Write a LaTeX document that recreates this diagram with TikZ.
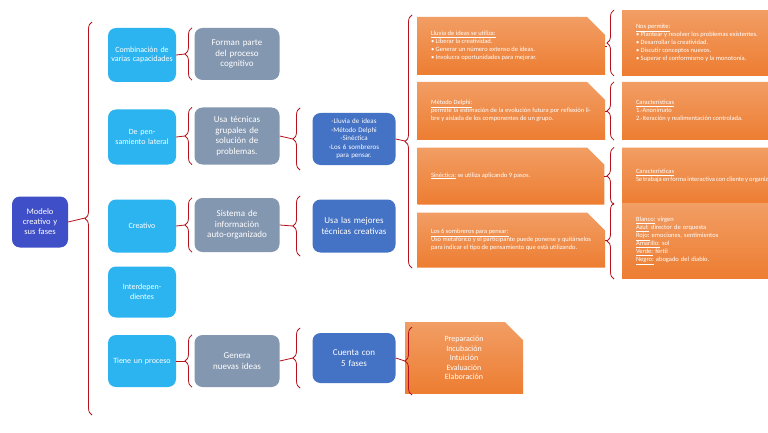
\documentclass[tikz,border=0pt]{standalone}
\usepackage{fontspec}
\setmainfont{Carlito}
\usetikzlibrary{shapes.misc}
\usetikzlibrary{decorations.pathreplacing}
\definecolor{rootblue}{HTML}{3F4FC8}
\definecolor{skyblue}{HTML}{2CB4F0}
\definecolor{slate}{HTML}{8497B0}
\definecolor{midblue}{HTML}{4472C4}
\definecolor{orng}{HTML}{ED7D31}
\definecolor{bracered}{HTML}{B5121B}
\tikzset{
  box/.style={rounded corners=8pt, text=white, align=center, inner sep=2pt},
  lvlone/.style={box, fill=skyblue, minimum width=68pt, text width=62pt, font=\fontsize{8}{9.5}\selectfont},
  lvltwo/.style={box, fill=slate, minimum width=85pt, text width=60pt, font=\fontsize{9}{10.5}\selectfont},
  lvlthree/.style={box, fill=midblue, minimum width=83pt, text width=70pt, font=\fontsize{9}{10.5}\selectfont},
  obox/.style={chamfered rectangle, chamfered rectangle corners=north east, chamfered rectangle xsep=9pt, chamfered rectangle ysep=9pt,
    top color=orng!75, bottom color=orng, draw=none, text=white, align=justify, inner sep=5pt,
    font=\fontsize{6.5}{8}\selectfont},
  brc/.style={draw=bracered, thick, decorate, decoration={brace, amplitude=7pt}},
  link/.style={draw=bracered, thick}
}
\begin{document}
\begin{tikzpicture}[x=1pt, y=-1pt]
    \clip (0,0) rectangle (768,433);
    \fill[white] (0,0) rectangle (768,433);

    % raiz
    \node[box, fill=rootblue, minimum width=56pt, minimum height=51pt, text width=50pt, font=\fontsize{8.5}{10}\selectfont] (root) at (40,222) {Modelo creativo y sus fases};
    \draw[brc] (92,415) -- (92,22);
    \draw[link] (root.east) -- (85,218);

    % primer nivel
    \node[lvlone, minimum height=54pt] (comb) at (142,55) {Combinación de varias capacidades};
    \node[lvlone, minimum height=55pt] (lat) at (142,137) {De pensamiento lateral};
    \node[lvlone, minimum height=53pt] (crea) at (142,226) {Creativo};
    \node[lvlone, minimum height=51pt] (inter) at (142,292) {Interdepen-\\dientes};
    \node[lvlone, minimum height=52pt] (proc) at (142,361) {Tiene un proceso};

    % segundo nivel
    \node[lvltwo, minimum height=52pt] (cogn) at (237,54) {Forman parte del proceso cognitivo};
    \node[lvltwo, minimum height=57pt] (grup) at (237,136) {Usa técnicas grupales de solución de problemas.};
    \node[lvltwo, minimum height=54pt] (sist) at (237,225) {Sistema de información auto-organizado};
    \node[lvltwo, minimum height=52pt] (gen) at (237,361) {Genera nuevas ideas};
    \foreach \a/\b in {comb/cogn, lat/grup, crea/sist, proc/gen} {
        \draw[brc] (192,0 |- \b.south) -- (192,0 |- \b.north);
        \draw[link] (\a.east) -- (185,0 |- \b.east);
    }

    % tercer nivel
    \node[lvlthree, minimum height=52pt, font=\fontsize{7}{8.5}\selectfont] (list) at (354,139) {-Lluvia de ideas\\-Método Delphi\\-Sinéctica\\-Los 6 sombreros para pensar.};
    \node[lvlthree, minimum height=53pt] (mejor) at (354,226) {Usa las mejores técnicas creativas};
    \node[lvlthree, minimum height=50pt] (fases) at (354,358) {Cuenta con 5 fases};

    % cajas naranjas
    \node[obox, minimum width=173pt, text width=160pt, minimum height=58pt] (lluvia) at (511,46)
      {\underline{Lluvia de ideas se utiliza:}\\ • Liberar la creatividad.\\ • Generar un número extenso de ideas.\\ • Involucra oportunidades para mejorar.};
    \node[obox, minimum width=173pt, text width=160pt, minimum height=58pt] (delphi) at (511,111)
      {\underline{Método Delphi:}\\ permite la estimación de la evolución futura por reflexión libre y aislada de los componentes de un grupo.};
    \node[obox, minimum width=173pt, text width=160pt, minimum height=57pt] (sinec) at (511,176)
      {\underline{Sinéctica:} se utiliza aplicando 9 pasos.};
    \node[obox, minimum width=173pt, text width=160pt, minimum height=55pt] (somb) at (511,240)
      {\underline{Los 6 sombreros para pensar:}\\ Uso metafórico y el participante puede ponerse y quitárselos para indicar el tipo de pensamiento que está utilizando.};
    \node[obox, minimum width=103pt, text width=90pt, minimum height=67pt, align=center, font=\fontsize{8}{9.5}\selectfont] (etapas) at (464,358)
      {Preparación\\ Incubación\\ Intuición\\ Evaluación\\ Elaboración};

    \node[obox, minimum width=160pt, text width=148pt, minimum height=63pt] (permite) at (710,43)
      {\underline{Nos permite:}\\ • Plantear y resolver los problemas existentes.\\ • Desarrollar la creatividad.\\ • Discutir conceptos nuevos.\\ • Superar el conformismo y la monotonía.};
    \node[obox, minimum width=160pt, text width=148pt, minimum height=58pt] (car1) at (710,111)
      {\underline{Características}\\ 1.-Anonimato\\ 2.-Iteración y realimentación controlada.};
    \node[obox, minimum width=160pt, text width=148pt, minimum height=57pt] (car2) at (710,176)
      {\underline{Características}\\ Se trabaja en forma interactiva con cliente y organización.};
    \node[obox, minimum width=160pt, text width=148pt, minimum height=57pt, align=left] (colores) at (710,241)
      {\underline{Blanco:} virgen\\ \underline{Azul:} director de orquesta\\ \underline{Rojo:} emociones, sentimientos\\ \underline{Amarillo:} sol\\ \underline{Verde:} fértil\\ \underline{Negro:} abogado del diablo.};

    % llaves
    \draw[brc] (300,170) -- (300,108);
    \draw[link] (grup.east) -- (293,139);
    \draw[brc] (300,256) -- (300,196);
    \draw[link] (sist.east) -- (293,226);
    \draw[brc] (300,388) -- (300,328);
    \draw[link] (gen.east) -- (293,358);
    \draw[brc] (412,268) -- (412,15);
    \draw[link] (list.east) -- (405,141);
    \draw[brc] (412,395) -- (412,327);
    \draw[link] (fases.east) -- (405,361);
    \foreach \a/\b in {lluvia/permite, delphi/car1, sinec/car2, somb/colores} {
        \draw[brc] (614,0 |- \b.south) -- (614,0 |- \b.north);
        \draw[link] (\a.east) -- (607,0 |- \a.east);
    }
\end{tikzpicture}
\end{document}
